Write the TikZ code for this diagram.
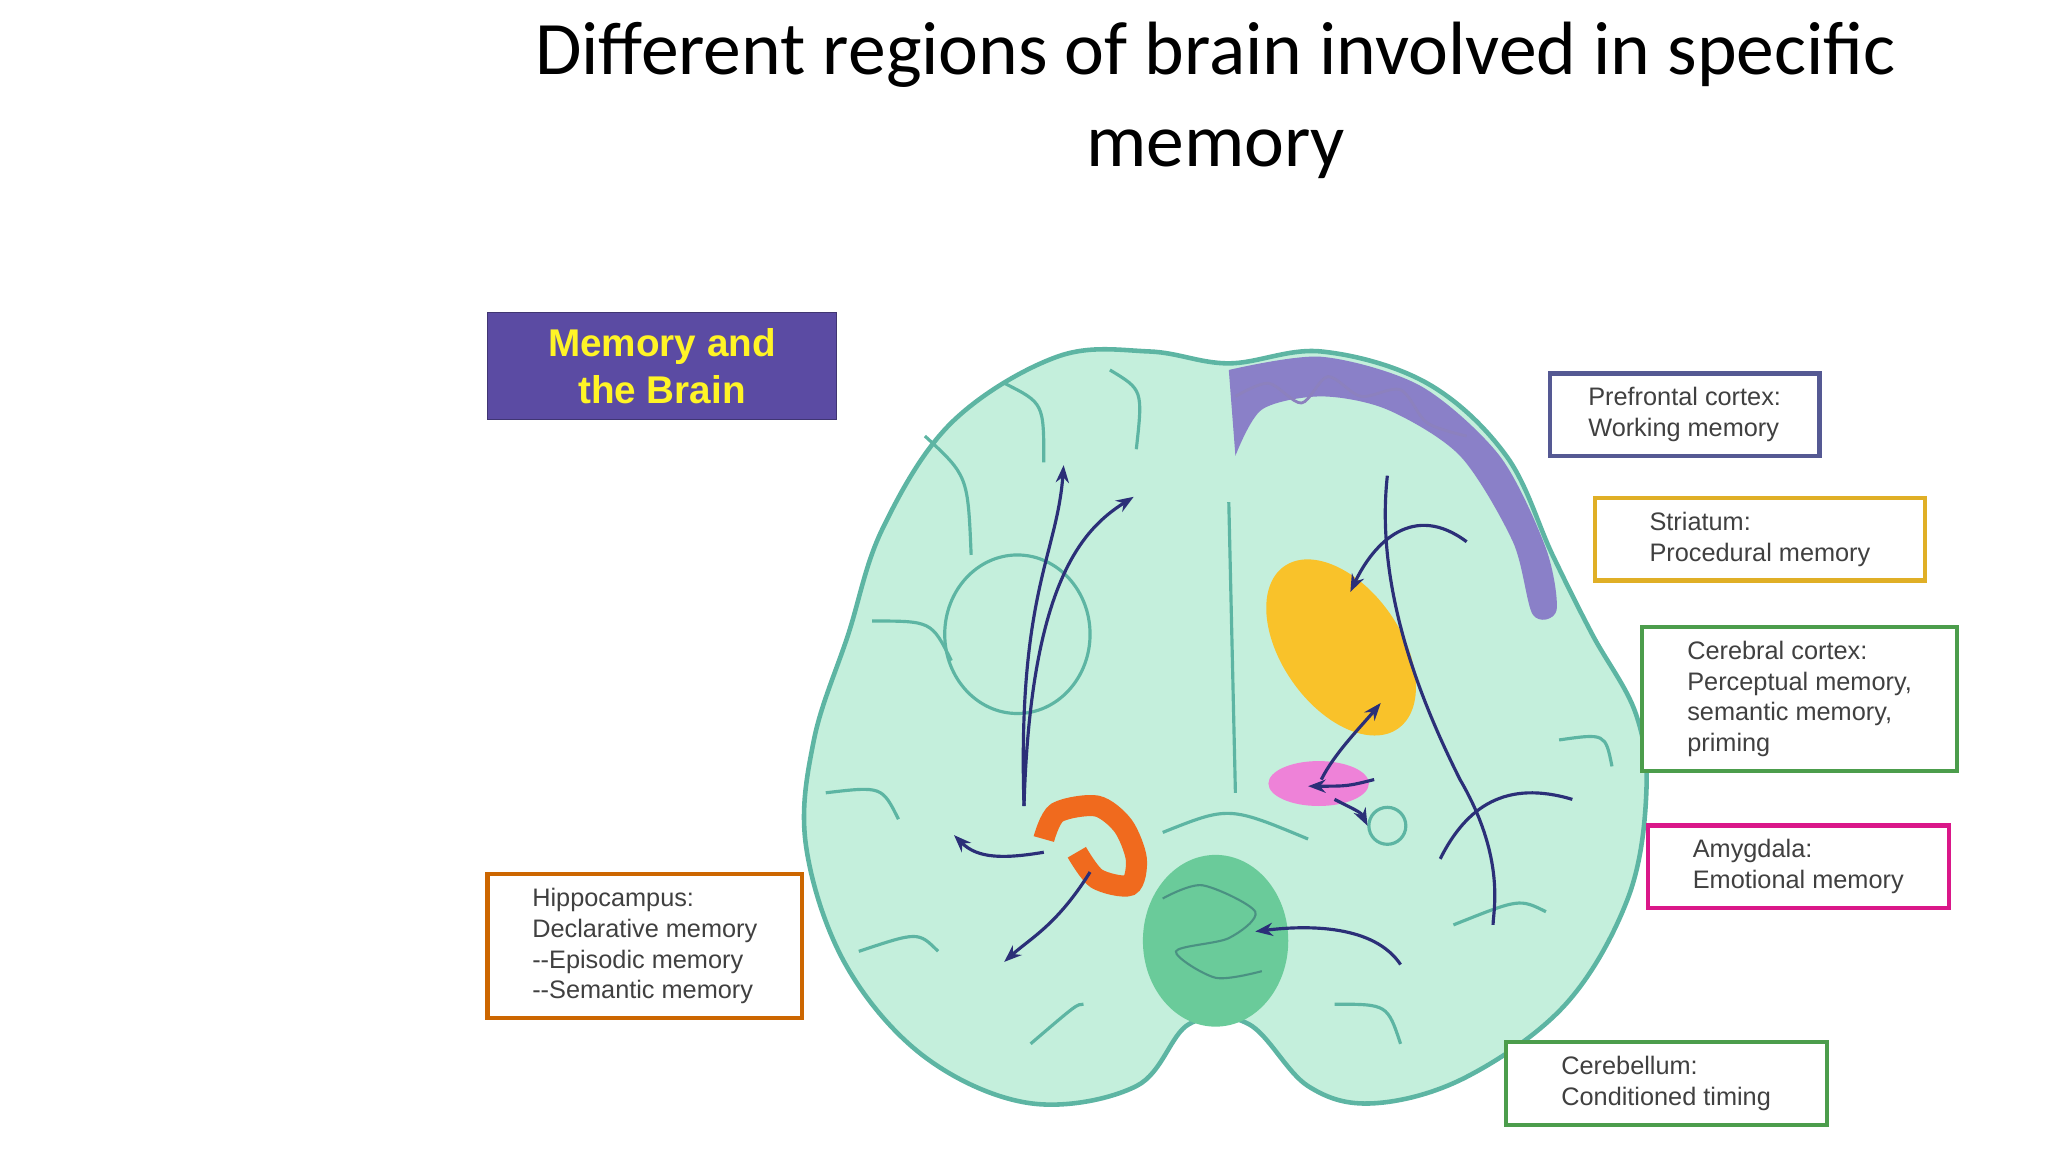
\documentclass[tikz,border=0pt]{standalone}
\usepackage{fontspec}
\setmainfont{Carlito}
\newfontfamily\lab{Liberation Sans}
\usetikzlibrary{arrows.meta}
\definecolor{mint}{HTML}{C4EFDC}
\definecolor{mintd}{HTML}{5DB5A3}
\definecolor{navy}{HTML}{2B2F78}
\definecolor{purp}{HTML}{5B4BA3}
\definecolor{lav}{HTML}{8A80C8}
\definecolor{yel}{HTML}{F9C22A}
\definecolor{pnk}{HTML}{EE82D8}
\definecolor{org}{HTML}{F06A1E}
\definecolor{cbl}{HTML}{6ACB9A}
\tikzset{lbox/.style={draw,line width=1.2pt,fill=white,align=left,inner sep=4pt,font=\lab\fontsize{7.2}{8.8}\selectfont,text=black!75},
arr/.style={navy,line width=0.9pt,-{Stealth[length=5pt]}},
gyr/.style={mintd,line width=0.9pt}}
\begin{document}
\begin{tikzpicture}[x=0.013213cm,y=-0.013213cm]
\useasboundingbox (0,0) rectangle (1550,872);
\node[font=\fontsize{21.5}{26}\selectfont,align=center] (title) at (920,76) {Different regions of brain involved in specific\\memory};
% brain
\draw[gyr,line width=1.3pt,fill=mint] plot[smooth cycle,tension=0.6] coordinates {(800,270)(870,266)(930,275)(1000,266)(1080,290)(1140,345)(1175,420)(1205,480)(1238,540)(1246,600)(1232,680)(1185,760)(1110,815)(1040,835)(990,822)(945,775)(900,775)(860,822)(780,835)(700,800)(640,730)(610,640)(616,560)(642,480)(668,400)(720,320)};
% gyri
\foreach \xa/\ya/\xb/\yb in {700/330/735/420,660/470/720/500,625/600/680/620,650/720/710/720,760/290/790/350,840/280/860/340,1100/700/1170/690,1180/560/1220/580,1010/760/1060/790,780/790/820/760}
  \draw[gyr] (\xa,\ya) .. controls ({(\xa+\xb)/2+15},{(\ya+\yb)/2-15}) .. (\xb,\yb);
\draw[gyr] (770,480) ellipse (55 and 60);
\draw[gyr] (930,380) -- (935,600);
\draw[gyr] (880,630) .. controls (930,610) .. (990,635);
\draw[gyr] (1050,625) circle (14);
% prefrontal
\fill[lav] plot[smooth] coordinates {(930,280)(1000,270)(1075,292)(1135,345)(1170,415)(1178,462)(1160,465)(1145,410)(1105,345)(1050,310)(1000,300)(955,310)(935,345)} -- cycle;
\draw[purp!70,line width=0.8pt] plot[smooth] coordinates {(935,300)(960,290)(985,305)(1005,285)(1030,300)(1060,295)(1080,320)(1110,330)};
% striatum, amygdala, hippocampus, cerebellum
\fill[yel,rotate around={-55:(1015,490)}] (1015,490) ellipse (75 and 45);
\fill[pnk] (998,593) ellipse (38 and 17);
\draw[org,line width=6pt] plot[smooth] coordinates {(790,635)(800,615)(830,610)(850,625)(860,650)(855,670)(830,665)(815,645)};
\fill[cbl] (920,712) ellipse (55 and 65);
\draw[mintd!80!black,line width=0.6pt] plot[smooth] coordinates {(880,680)(910,670)(950,690)(930,710)(890,720)(920,740)(955,735)};
% arrows
\coordinate (a1) at (805,352); \coordinate (a2) at (858,376);
\coordinate (s0) at (775,610);
\draw[arr] (s0) .. controls (770,450) and (800,420) .. (a1);
\draw[arr] (s0) .. controls (780,440) and (820,400) .. (a2);
\draw[arr] (790,645) .. controls (760,650) and (740,650) .. (722,632);
\draw[arr] (825,660) .. controls (800,700) and (780,710) .. (760,728);
\draw[arr] (1110,410) .. controls (1070,380) and (1040,410) .. (1022,448);
\draw[arr] (1000,590) .. controls (1010,570) and (1030,550) .. (1045,532);
\draw[arr] (1040,590) .. controls (1020,595) .. (990,595);
\draw[arr] (1010,605) .. controls (1030,615) .. (1035,625);
\draw[arr] (1060,730) .. controls (1040,700) and (990,700) .. (950,705);
\draw[navy,line width=0.9pt] (1050,360) .. controls (1040,450) and (1080,540) .. (1105,590) .. controls (1140,650) and (1130,690) .. (1130,700);
\draw[navy,line width=0.9pt] (1190,605) .. controls (1140,590) and (1110,610) .. (1090,650);
% title box
\node[fill=purp,draw=purp!70!black,minimum width=264*0.013213cm,minimum height=81*0.013213cm,align=center,text=yellow!85!white,font=\lab\bfseries\fontsize{11}{13.5}\selectfont] (mb) at (501,277) {Memory and\\the Brain};
% labels
\node[lbox,draw=navy!80,minimum width=204*0.013213cm,minimum height=60*0.013213cm] (pf) at (1275,314) {Prefrontal cortex:\\Working memory};
\node[lbox,draw=yel!90!black,minimum width=250*0.013213cm,minimum height=60*0.013213cm] (st) at (1332,408) {Striatum:\\Procedural memory};
\node[lbox,draw=green!45!black!70,minimum width=238*0.013213cm,minimum height=107*0.013213cm] (cc) at (1362,529) {Cerebral cortex:\\Perceptual memory,\\semantic memory,\\priming};
\node[lbox,draw=magenta!80!violet,minimum width=228*0.013213cm,minimum height=58*0.013213cm] (am) at (1361,656) {Amygdala:\\Emotional memory};
\node[lbox,draw=green!45!black!70,minimum width=243*0.013213cm,minimum height=59*0.013213cm] (cb) at (1261,820) {Cerebellum:\\Conditioned timing};
\node[lbox,draw=orange!80!black,minimum width=238*0.013213cm,minimum height=109*0.013213cm] (hc) at (488,716) {Hippocampus:\\Declarative memory\\--Episodic memory\\--Semantic memory};
\end{tikzpicture}
\end{document}
